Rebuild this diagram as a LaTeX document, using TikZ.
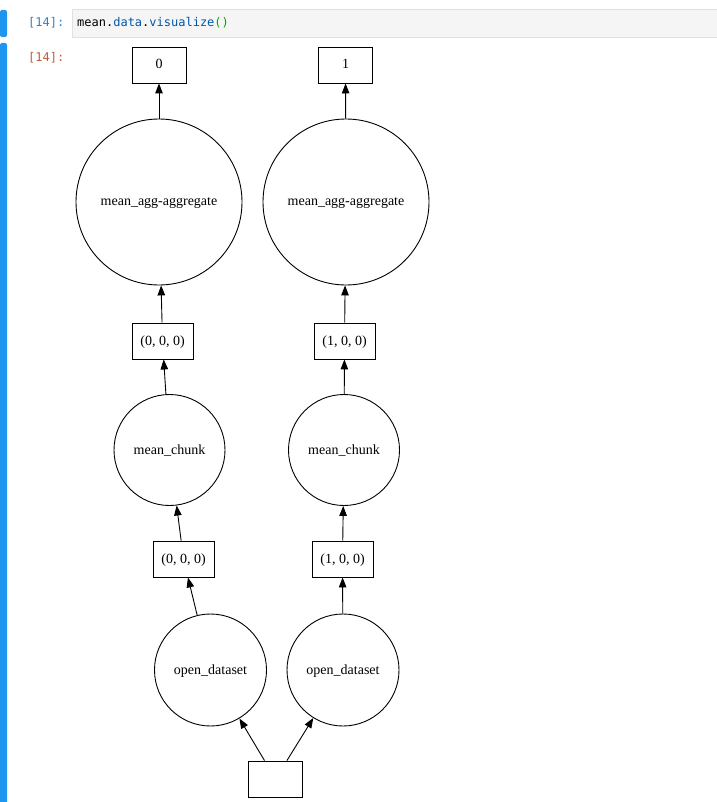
\documentclass[tikz,border=0pt]{standalone}
\usepackage{fontspec}
\setmainfont{Liberation Serif}
\newfontfamily\codefont{DejaVu Sans Mono}
\usetikzlibrary{arrows.meta}
\definecolor{jpblue}{HTML}{1E96F0}
\definecolor{inprompt}{HTML}{307FC1}
\definecolor{outprompt}{HTML}{BF5B3D}
\definecolor{cellbg}{HTML}{F5F5F5}
\definecolor{cellborder}{HTML}{E0E0E0}
\definecolor{cmprop}{HTML}{0055AA}
\definecolor{cmbracket}{HTML}{00AA00}
\tikzset{
  gbox/.style={draw, line width=0.9pt, minimum width=54pt, minimum height=36pt, inner sep=0pt, text height=8pt, text depth=0pt, font=\fontsize{14}{16}\selectfont},
  tbox/.style={gbox, minimum width=61pt},
  gcirc/.style={draw, circle, line width=0.9pt, inner sep=0pt, text height=8pt, text depth=0pt, font=\fontsize{14}{16}\selectfont},
  edge/.style={draw, line width=0.9pt, -{Triangle[length=10pt,width=7.5pt]}},
  prompt/.style={font=\codefont\fontsize{12}{14}\selectfont, anchor=west, inner sep=0pt}
}
\begin{document}
\begin{tikzpicture}[x=1pt,y=-1pt]
\useasboundingbox (0,0) rectangle (716,802);
% cell bars
\fill[jpblue, rounded corners=2pt] (0,10) rectangle (7,37);
\fill[jpblue, rounded corners=2pt] (0,43) rectangle (7,808);
% input area
\draw[cellborder, fill=cellbg, line width=1pt] (72.5,9.5) rectangle (720,37.5);
\node[prompt, text=inprompt] (inp) at (28,23) {[14]:};
\node[prompt] (code) at (77,23) {mean.\textcolor{cmprop}{data}.\textcolor{cmprop}{visualize}\textcolor{cmbracket}{()}};
\node[prompt, text=outprompt] (outp) at (28,58) {[14]:};
% graph nodes
\node[gbox] (r0) at (159,65) {0};
\node[gbox] (r1) at (345.5,65) {1};
\node[gcirc, minimum size=166pt] (agg0) at (159,202) {mean\_agg-aggregate};
\node[gcirc, minimum size=166pt] (agg1) at (346,202) {mean\_agg-aggregate};
\node[tbox] (ta0) at (162.5,341) {(0, 0, 0)};
\node[tbox] (ta1) at (344.5,341) {(1, 0, 0)};
\node[gcirc, minimum size=111pt] (ch0) at (169.5,450) {mean\_chunk};
\node[gcirc, minimum size=111pt] (ch1) at (344,450) {mean\_chunk};
\node[tbox] (tb0) at (183.5,559) {(0, 0, 0)};
\node[tbox] (tb1) at (342.5,559) {(1, 0, 0)};
\node[gcirc, minimum size=112pt] (od0) at (210.5,670) {open\_dataset};
\node[gcirc, minimum size=112pt] (od1) at (343,670) {open\_dataset};
\node[gbox] (src) at (275.5,779) {};
% edges
\draw[edge] (src) -- (od0);
\draw[edge] (src) -- (od1);
\draw[edge] (od0) -- (tb0);
\draw[edge] (od1) -- (tb1);
\draw[edge] (tb0) -- (ch0);
\draw[edge] (tb1) -- (ch1);
\draw[edge] (ch0) -- (ta0);
\draw[edge] (ch1) -- (ta1);
\draw[edge] (ta0) -- (agg0);
\draw[edge] (ta1) -- (agg1);
\draw[edge] (agg0) -- (r0);
\draw[edge] (agg1) -- (r1);
\end{tikzpicture}
\end{document}
